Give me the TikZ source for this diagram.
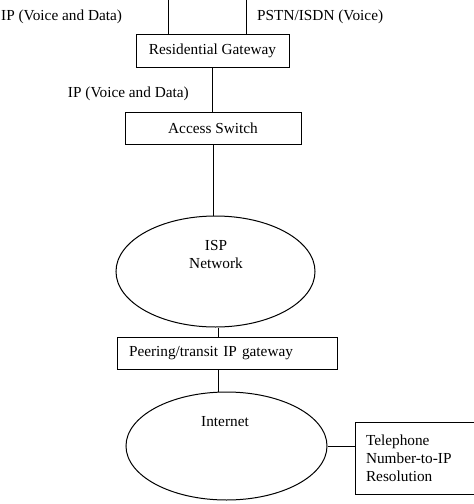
\documentclass[tikz,border=0pt]{standalone}
\usepackage{fontspec}
\setmainfont{Liberation Serif}
\usetikzlibrary{shapes.geometric}
\begin{document}
\begin{tikzpicture}[x=1pt,y=-1pt,
  every node/.style={font=\fontsize{15.3}{18}\selectfont, inner sep=0pt},
  box/.style={draw, line width=1pt, rectangle},
  cloud/.style={draw, line width=1pt, ellipse, inner sep=0pt},
  wire/.style={line width=1pt},
  lbl/.style={}]
\useasboundingbox (0,0) rectangle (474,504);
% nodes
\node[box, minimum width=153pt, minimum height=33pt] (rg) at (212.5,50.5) {Residential Gateway};
\node[box, minimum width=176pt, minimum height=32pt] (as) at (213,128) {Access Switch};
\node[cloud, minimum width=199pt, minimum height=111pt] (isp) at (215.5,271.5) {};
\node[align=center] (isptext) at (216,255) {ISP\\Network};
\node[box, text width=196pt, inner xsep=12pt, minimum height=32pt, align=left] (peer) at (227,353) {Peering/transit IP gateway};
\node[cloud, minimum width=201pt, minimum height=108pt] (inet) at (226.5,446) {};
\node (inettext) at (225,422) {Internet};
\node[box, text width=98pt, inner xsep=11pt, minimum height=72pt, align=left] (tel) at (415,458) {Telephone\\Number-to-IP\\Resolution};
% labels
\node[lbl, anchor=west] (ip1) at (1,17) {IP (Voice and Data)};
\node[lbl, anchor=west] (pstn) at (257,17) {PSTN/ISDN (Voice)};
\node[lbl, anchor=east] (ip2) at (189,94) {IP (Voice and Data)};
% free ends
\coordinate (t1) at (168,0);
\coordinate (t2) at (246,0);
\coordinate (b1) at ([xshift=2.5pt]isp.south);
% connectors
\draw[wire] (t1) -- (t1 |- rg.north);
\draw[wire] (t2) -- (t2 |- rg.north);
\draw[wire] (rg.south) -- (rg.south |- as.north);
\draw[wire] (as.south) -- (as.south |- isp.north);
\draw[wire] (b1) -- (b1 |- peer.north);
\draw[wire] (b1 |- peer.south) -- (b1 |- inet.north);
\draw[wire] (inet.east) -- (tel.west |- inet.east);
\end{tikzpicture}
\end{document}
